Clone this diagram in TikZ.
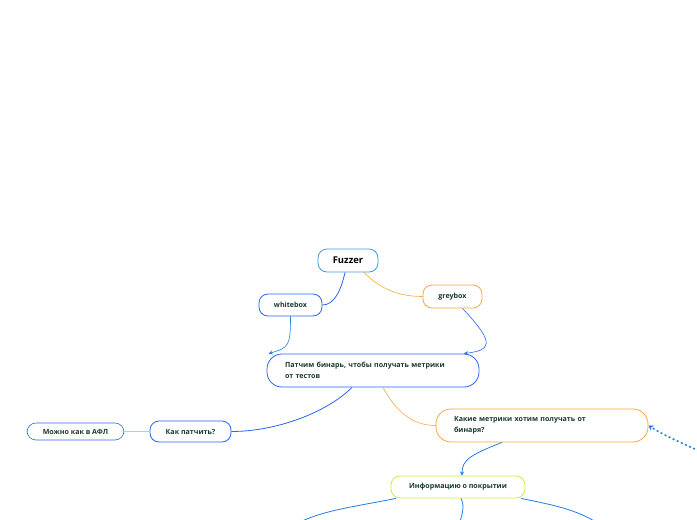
\documentclass[tikz,border=0pt]{standalone}
\usepackage{fontspec}
\setmainfont{Open Sans}
\usetikzlibrary{arrows.meta}
\definecolor{txt}{RGB}{24,58,46}
\definecolor{fzc}{RGB}{70,155,215}
\definecolor{bluec}{RGB}{40,100,245}
\definecolor{linkc}{RGB}{30,125,230}
\definecolor{orc}{RGB}{248,168,58}
\definecolor{grc}{RGB}{200,240,60}
\definecolor{palec}{RGB}{175,205,250}

\begin{document}
\begin{tikzpicture}[x=1pt, y=-1pt,
    box/.style={draw=bluec, thick, rounded corners=9pt, text=txt, inner sep=0pt, minimum height=22pt, font=\bfseries\fontsize{7.1}{11}\selectfont},
    wide/.style={box, rounded corners=15pt, minimum height=33pt, minimum width=212pt, align=left}]
    \useasboundingbox (0,0) rectangle (697,520);
    %Nodes
    \node[box, draw=fzc, text=black, minimum width=60pt, minimum height=23pt, font=\bfseries\fontsize{9.4}{10}\selectfont] at (348, 260.5) (fz) {Fuzzer};
    \node[box, minimum width=63pt] at (290.5, 305) (wb) {whitebox};
    \node[box, draw=orc, minimum width=59pt, minimum height=23pt] at (452.5, 296.5) (gb) {greybox};
    \node[wide, text width=176pt] at (373, 370.5) (pt) {Патчим бинарь, чтобы получать метрики\\от тестов};

    \node[box, minimum width=81pt, minimum height=21pt] at (190.5, 431.5) (kp) {Как патчить?};
    \node[box, semithick, minimum width=97pt, minimum height=17pt] at (75.5, 431.5) (afl) {Можно как в АФЛ};

    \node[wide, draw=orc, text width=176pt] at (542, 425.5) (km) {Какие метрики хотим получать от\\бинаря?};
    \node[box, draw=grc, minimum width=134pt] at (458, 487) (ip) {Информацию о покрытии};

    \coordinate (l1) at (300, 522);
    \coordinate (l2) at (460, 522);
    \coordinate (l3) at (596, 522);
    \coordinate (far) at (699, 451);

    %Lines
    \draw[bluec, thick] ([xshift=-3pt]fz.south) .. controls +(-4, 18) and +(12, 0) .. (wb.east);
    \draw[orc, semithick] ([xshift=16pt]fz.south) .. controls +(16, 16) and +(-25, 0) .. (gb.west);
    \draw[linkc, semithick, -{Stealth[length=4pt, width=4pt]}] (wb.south) .. controls +(0, 30) and +(20, -6) .. ([xshift=2pt]pt.north west);
    \draw[bluec, semithick, -{Stealth[length=4pt, width=4pt]}] ([xshift=10pt]gb.south) .. controls (497, 345) and (490, 350) .. ([xshift=91pt]pt.north);
    \draw[bluec, thick] ([xshift=-21pt]pt.south) .. controls +(-25, 25) and +(45, 0) .. (kp.east);
    \draw[palec, very thick] (kp.west) -- (afl.east);
    \draw[orc, semithick] ([xshift=10pt]pt.south) .. controls +(12, 22) and +(-25, 0) .. (km.west);
    \draw[linkc, thick, -{Stealth[length=4pt, width=4pt]}] ([xshift=-40pt]km.south) .. controls (470, 455) and (462, 460) .. ([xshift=4pt]ip.north);
    \draw[linkc, thick] ([xshift=-62pt]ip.south) .. controls +(-40, 8) and +(25, -12) .. (l1);
    \draw[linkc, thick] ([xshift=3pt]ip.south) .. controls +(4, 8) and +(2, -8) .. (l2);
    \draw[linkc, thick] ([xshift=63pt]ip.south) .. controls +(35, 7) and +(-20, -12) .. (l3);
    \draw[linkc, line width=1.5pt, dash pattern=on 2pt off 2.5pt, -{Stealth[length=5pt, width=6pt]}] (far) .. controls (680, 442) and (665, 436) .. (km.east);
\end{tikzpicture}
\end{document}
